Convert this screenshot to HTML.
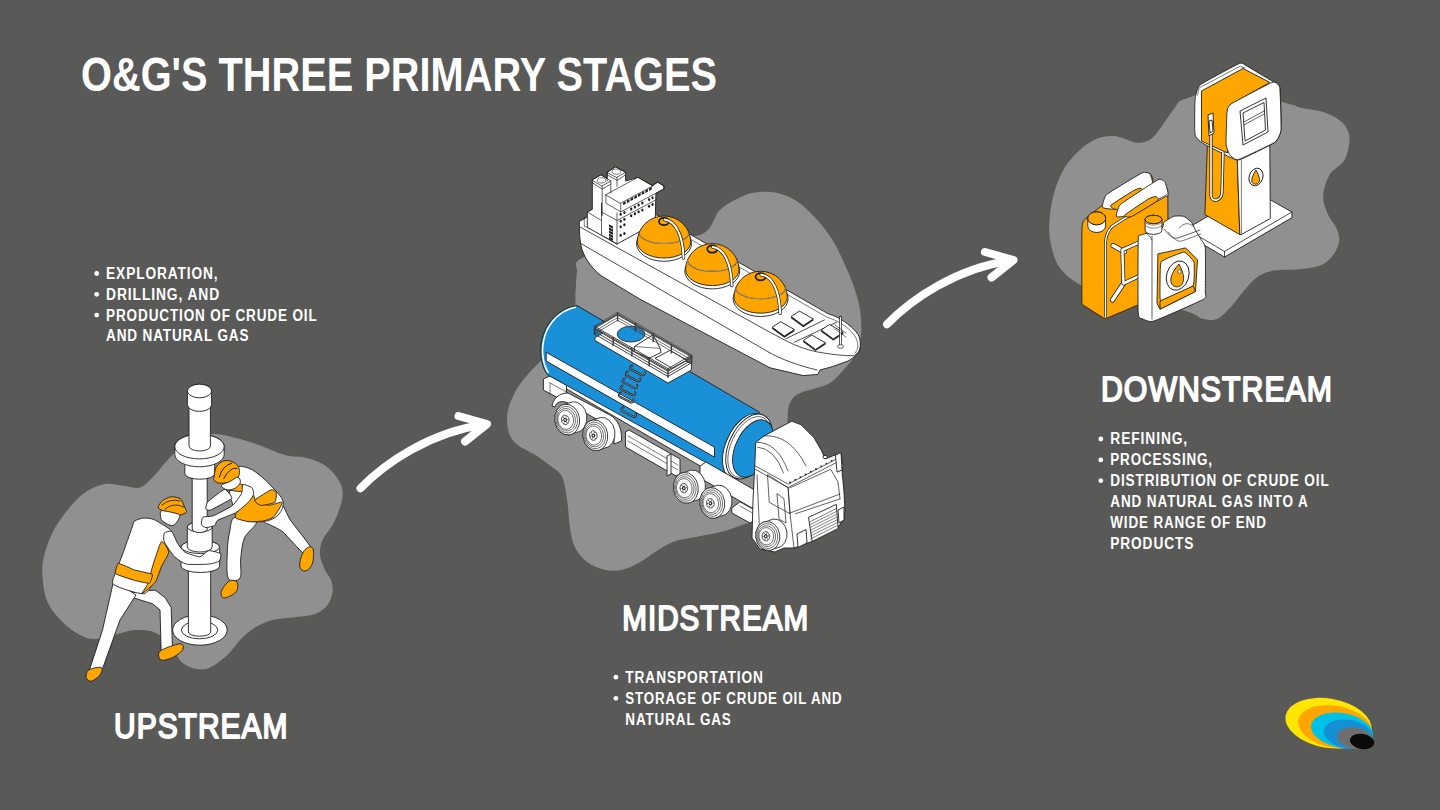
<!DOCTYPE html>
<html><head><meta charset="utf-8"><style>
html,body{margin:0;padding:0;background:#595957;width:1440px;height:810px;overflow:hidden}
svg{display:block;font-family:"Liberation Sans",sans-serif}
</style></head><body>
<svg width="1440" height="810" viewBox="0 0 1440 810">
<rect width="1440" height="810" fill="#595957"/>
<path fill="#909090" d="M67.5,510.0 C72.9,503.3 78.8,496.8 85.0,492.5 C91.2,488.2 98.3,485.1 105.0,484.0 C111.7,482.9 119.2,485.4 125.0,486.0 C130.8,486.6 135.4,488.9 140.0,487.5 C144.6,486.1 147.5,482.5 152.5,477.5 C157.5,472.5 163.8,463.9 170.0,457.5 C176.2,451.1 182.5,442.9 190.0,439.0 C197.5,435.1 205.0,433.5 215.0,434.0 C225.0,434.5 238.3,438.5 250.0,442.0 C261.7,445.5 275.8,452.4 285.0,455.0 C294.2,457.6 298.8,456.0 305.0,457.5 C311.2,459.0 317.5,461.1 322.5,464.0 C327.5,466.9 331.7,470.7 335.0,475.0 C338.3,479.3 341.7,484.6 342.5,490.0 C343.3,495.4 341.7,501.7 340.0,507.5 C338.3,513.3 335.4,519.6 332.5,525.0 C329.6,530.4 324.6,535.0 322.5,540.0 C320.4,545.0 319.6,550.0 320.0,555.0 C320.4,560.0 323.2,565.8 325.0,570.0 C326.8,574.2 329.8,576.3 331.0,580.0 C332.2,583.7 333.1,587.8 332.5,592.0 C331.9,596.2 330.4,601.3 327.5,605.0 C324.6,608.7 320.8,611.9 315.0,614.0 C309.2,616.1 299.6,616.5 292.5,617.5 C285.4,618.5 278.8,618.3 272.5,620.0 C266.2,621.7 260.4,624.2 255.0,627.5 C249.6,630.8 244.6,635.4 240.0,640.0 C235.4,644.6 232.5,650.4 227.5,655.0 C222.5,659.6 215.1,665.2 210.0,667.5 C204.9,669.8 201.7,669.8 197.0,669.0 C192.3,668.2 186.5,666.5 182.0,662.5 C177.5,658.5 174.5,650.0 170.0,645.0 C165.5,640.0 160.8,635.0 155.0,632.5 C149.2,630.0 141.2,629.8 135.0,630.0 C128.8,630.2 124.2,632.5 117.5,634.0 C110.8,635.5 101.2,638.8 95.0,639.0 C88.8,639.2 85.4,637.8 80.0,635.0 C74.6,632.2 67.9,627.5 62.5,622.0 C57.1,616.5 50.8,609.5 47.5,602.0 C44.2,594.5 43.1,584.4 42.5,577.0 C41.9,569.6 42.1,564.9 43.8,557.5 C45.4,550.1 48.5,540.4 52.5,532.5 C56.5,524.6 62.1,516.7 67.5,510.0 Z"/>
<path fill="#909090" d="M582.0,258.0 C592.5,252.3 620.3,241.8 640.0,238.0 C659.7,234.2 686.7,239.7 700.0,235.0 C713.3,230.3 713.3,216.2 720.0,210.0 C726.7,203.8 734.2,200.4 740.0,197.5 C745.8,194.6 749.2,193.3 755.0,192.5 C760.8,191.7 768.3,191.2 775.0,192.5 C781.7,193.8 788.3,195.8 795.0,200.0 C801.7,204.2 808.8,210.8 815.0,217.5 C821.2,224.2 827.5,232.1 832.5,240.0 C837.5,247.9 841.2,256.7 845.0,265.0 C848.8,273.3 852.5,282.5 855.0,290.0 C857.5,297.5 859.0,302.5 860.0,310.0 C861.0,317.5 861.8,327.5 861.0,335.0 C860.2,342.5 858.0,349.1 855.0,355.0 C852.0,360.9 847.0,365.9 843.0,370.4 C839.0,374.9 835.6,379.2 831.1,382.2 C826.6,385.1 821.2,386.4 816.3,388.1 C811.4,389.8 805.5,390.9 801.5,392.6 C797.5,394.3 794.8,395.8 792.6,398.5 C790.4,401.2 789.0,404.5 788.1,408.9 C787.2,413.3 788.4,414.8 787.0,425.0 C785.6,435.2 784.2,455.0 780.0,470.0 C775.8,485.0 768.3,505.8 762.0,515.0 C755.7,524.2 749.1,522.1 742.0,525.0 C734.9,527.9 727.5,530.2 719.6,532.3 C711.7,534.3 702.5,535.6 694.6,537.3 C686.7,538.9 678.9,539.7 672.2,542.2 C665.6,544.7 660.1,548.9 654.7,552.2 C649.3,555.5 645.2,559.3 639.8,562.2 C634.4,565.1 628.1,568.5 622.3,569.7 C616.5,571.0 610.6,571.0 604.8,569.7 C599.0,568.5 592.4,566.0 587.4,562.2 C582.4,558.5 577.8,553.0 574.9,547.2 C572.0,541.4 571.1,534.8 569.9,527.3 C568.6,519.8 568.6,510.6 567.4,502.3 C566.1,494.0 564.9,483.2 562.4,477.4 C559.9,471.5 556.9,471.0 552.3,467.2 C547.7,463.4 540.7,458.5 534.9,454.8 C529.1,451.1 521.8,448.6 517.4,444.8 C513.0,441.1 510.3,437.7 508.7,432.3 C507.1,426.9 506.5,419.0 507.5,412.4 C508.5,405.8 511.6,398.6 514.9,392.4 C518.2,386.2 521.5,382.1 527.4,375.0 C533.2,367.9 542.4,360.2 550.0,350.0 C557.6,339.8 568.8,323.7 573.0,314.0 C577.2,304.3 574.8,299.0 575.5,292.0 C576.2,285.0 575.9,277.7 577.0,272.0 C578.1,266.3 571.5,263.7 582.0,258.0 Z"/>
<path fill="#909090" d="M1147.2,141.1 C1150.9,139.4 1152.6,137.9 1157.2,132.4 C1161.8,126.9 1170.1,113.6 1174.7,108.0 C1179.3,102.4 1175.8,102.3 1185.0,99.0 C1194.2,95.7 1213.8,87.5 1230.0,88.0 C1246.2,88.5 1271.2,99.1 1282.0,102.0 C1292.8,104.9 1292.0,104.6 1295.0,105.5 C1298.0,106.4 1294.8,106.2 1299.7,107.4 C1304.6,108.6 1317.5,109.9 1324.6,112.4 C1331.6,114.9 1337.8,118.1 1342.0,122.3 C1346.2,126.5 1349.1,131.1 1349.5,137.3 C1349.9,143.5 1347.9,153.5 1344.6,159.7 C1341.3,165.9 1333.2,168.6 1329.6,174.7 C1326.0,180.8 1323.5,189.4 1323.2,196.0 C1322.9,202.6 1325.9,209.2 1328.0,214.4 C1330.1,219.6 1334.1,223.0 1336.0,227.3 C1337.9,231.6 1339.5,235.8 1339.3,240.1 C1339.0,244.4 1337.2,249.0 1334.5,253.0 C1331.8,257.0 1328.5,261.5 1323.2,264.2 C1317.9,266.9 1310.7,267.9 1302.4,269.0 C1294.1,270.1 1281.0,269.3 1273.5,270.6 C1266.0,271.9 1262.2,273.8 1257.4,277.0 C1252.6,280.2 1248.9,285.1 1244.6,289.9 C1240.3,294.7 1236.2,301.1 1231.7,305.9 C1227.2,310.7 1222.1,316.6 1217.3,318.8 C1212.5,321.0 1207.3,319.9 1202.8,318.8 C1198.2,317.7 1198.8,315.5 1190.0,312.4 C1181.2,309.3 1165.8,303.7 1150.0,300.0 C1134.2,296.3 1107.7,293.2 1095.0,290.0 C1082.3,286.8 1080.2,285.2 1074.0,281.0 C1067.8,276.8 1062.0,271.9 1058.0,265.0 C1054.0,258.1 1051.3,248.0 1050.0,239.6 C1048.7,231.2 1049.2,223.0 1050.0,214.7 C1050.8,206.4 1052.5,197.7 1055.0,189.8 C1057.5,181.9 1060.8,174.0 1064.9,167.3 C1069.1,160.7 1074.5,154.7 1079.9,149.9 C1085.3,145.1 1091.6,140.9 1097.4,138.6 C1103.2,136.3 1108.6,135.5 1114.8,136.1 C1121.0,136.7 1129.4,141.6 1134.8,142.4 C1140.2,143.2 1143.5,142.8 1147.2,141.1 Z"/>
<ellipse cx="199.9" cy="630.0" rx="27.3" ry="15.2" fill="#fff" stroke="#1e1e1e" stroke-width="0.9" stroke-linejoin="round"/>
<ellipse cx="199.6" cy="630.0" rx="18.2" ry="8.8" fill="#fff" stroke="#1e1e1e" stroke-width="0.9" stroke-linejoin="round"/>
<path d="M188.4,567.0 L188.4,632.0 A11.1,4.2 0 0 0 210.7,632.0 L210.7,567.0 A11.1,4.2 0 0 0 188.4,567.0 Z" fill="#fff" stroke="#1e1e1e" stroke-width="0.9" stroke-linejoin="round" />
<ellipse cx="199.6" cy="567.0" rx="11.1" ry="4.2" fill="#fff" stroke="#1e1e1e" stroke-width="0.9" stroke-linejoin="round"/>
<path d="M181.0,547.0 L181.0,566.0 A19.3,6.5 0 0 0 219.7,566.0 L219.7,547.0 A19.3,6.5 0 0 0 181.0,547.0 Z" fill="#fff" stroke="#1e1e1e" stroke-width="0.9" stroke-linejoin="round" />
<ellipse cx="200.3" cy="547.0" rx="19.3" ry="6.5" fill="#fff" stroke="#1e1e1e" stroke-width="0.9" stroke-linejoin="round"/>
<path d="M187.3,527.0 L187.3,547.0 A12.4,5.0 0 0 0 212.2,547.0 L212.2,527.0 A12.4,5.0 0 0 0 187.3,527.0 Z" fill="#fff" stroke="#1e1e1e" stroke-width="0.9" stroke-linejoin="round" />
<ellipse cx="199.8" cy="527.0" rx="12.4" ry="5.0" fill="#fff" stroke="#1e1e1e" stroke-width="0.9" stroke-linejoin="round"/>
<path d="M192.2,470.0 L192.2,529.0 A7.5,3.5 0 0 0 207.2,529.0 L207.2,470.0 A7.5,3.5 0 0 0 192.2,470.0 Z" fill="#fff" stroke="#1e1e1e" stroke-width="0.9" stroke-linejoin="round" />
<ellipse cx="199.7" cy="470.0" rx="7.5" ry="3.5" fill="#fff" stroke="#1e1e1e" stroke-width="0.9" stroke-linejoin="round"/>
<path d="M184.8,460.0 L184.8,473.7 A14.9,5.5 0 0 0 214.7,473.7 L214.7,460.0 A14.9,5.5 0 0 0 184.8,460.0 Z" fill="#fff" stroke="#1e1e1e" stroke-width="0.9" stroke-linejoin="round" />
<ellipse cx="199.8" cy="460.0" rx="14.9" ry="5.5" fill="#fff" stroke="#1e1e1e" stroke-width="0.9" stroke-linejoin="round"/>
<path d="M174.8,446.6 L174.8,454.5 A24.7,12.3 0 0 0 224.2,454.5 L224.2,446.6 A24.7,12.3 0 0 0 174.8,446.6 Z" fill="#fff" stroke="#1e1e1e" stroke-width="0.9" stroke-linejoin="round" />
<ellipse cx="199.5" cy="446.6" rx="24.7" ry="12.3" fill="#fff" stroke="#1e1e1e" stroke-width="0.9" stroke-linejoin="round"/>
<path d="M189.0,404.0 L189.0,446.0 A10.7,5.0 0 0 0 210.4,446.0 L210.4,404.0 A10.7,5.0 0 0 0 189.0,404.0 Z" fill="#fff" stroke="#1e1e1e" stroke-width="0.9" stroke-linejoin="round" />
<ellipse cx="199.7" cy="404.0" rx="10.7" ry="5.0" fill="#fff" stroke="#1e1e1e" stroke-width="0.9" stroke-linejoin="round"/>
<path d="M187.4,391.0 L187.4,404.6 A12.1,6.8 0 0 0 211.6,404.6 L211.6,391.0 A12.1,6.8 0 0 0 187.4,391.0 Z" fill="#fff" stroke="#1e1e1e" stroke-width="0.9" stroke-linejoin="round" />
<ellipse cx="199.5" cy="391.0" rx="12.1" ry="6.8" fill="#fff" stroke="#1e1e1e" stroke-width="0.9" stroke-linejoin="round"/>
<path d="M263.7,520.9 C264.7,518.7 277.3,502.5 280.0,502.4 C282.7,502.3 287.3,515.7 290.4,520.2 C293.4,524.6 309.0,543.5 310.4,546.9 C311.7,550.2 306.4,555.0 303.7,553.5 C301.0,552.0 286.4,534.9 283.0,532.0 C279.6,529.1 271.6,525.7 269.6,524.6 C267.7,523.5 262.7,523.1 263.7,520.9 Z" fill="#fff" stroke="#1e1e1e" stroke-width="0.9" stroke-linejoin="round" />
<path d="M234.8,517.2 C239.3,515.5 254.7,518.2 256.3,521.7 C257.9,525.1 247.0,531.8 244.4,538.0 C241.9,544.1 241.5,552.0 240.7,558.7 C240.0,565.4 242.1,574.8 240.0,578.0 C237.9,581.2 230.2,582.7 228.1,578.0 C226.0,573.3 227.2,557.5 227.4,549.8 C227.7,542.2 228.4,537.5 229.6,532.0 C230.9,526.6 230.4,519.0 234.8,517.2 Z" fill="#fff" stroke="#1e1e1e" stroke-width="0.9" stroke-linejoin="round" />
<path d="M235.6,468.3 C238.8,464.6 244.4,466.9 248.9,468.3 C253.3,469.8 258.0,473.8 262.2,477.2 C266.4,480.7 270.6,485.1 274.1,489.1 C277.5,493.0 282.0,497.0 283.0,500.9 C284.0,504.9 282.2,509.6 280.0,512.8 C277.8,516.0 274.1,518.7 269.6,520.2 C265.2,521.7 258.8,522.2 253.3,521.7 C247.9,521.2 240.5,520.2 237.0,517.2 C233.6,514.3 233.8,508.3 232.6,503.9 C231.4,499.4 229.1,496.5 229.6,490.6 C230.1,484.6 232.3,472.0 235.6,468.3 Z" fill="#fff" stroke="#1e1e1e" stroke-width="0.9" stroke-linejoin="round" />
<path d="M225.2,489.4 C224.0,488.4 237.8,483.9 240.0,483.9 C242.2,483.9 247.0,487.1 247.4,489.1 C247.9,491.1 245.5,501.6 244.4,503.9 C243.4,506.2 237.9,510.6 237.0,512.0 C236.1,513.4 234.4,517.0 235.6,518.0 C236.7,518.9 246.1,521.4 248.9,521.7 C251.7,522.0 261.2,521.4 263.7,520.9 C266.2,520.4 272.2,518.3 274.1,516.5 C275.9,514.6 282.7,503.5 282.2,502.4 C281.8,501.3 272.2,505.1 269.6,505.1 C267.0,505.1 258.1,503.6 256.3,502.4 C254.5,501.3 255.0,494.8 251.9,493.5 C248.7,492.2 226.4,490.3 225.2,489.4 Z" fill="#ffa500" stroke="#1e1e1e" stroke-width="0.9" stroke-linejoin="round" />
<path d="M254.8,500.2 C255.7,498.9 269.3,490.4 271.1,489.8 C272.9,489.2 276.0,491.7 276.3,492.8 C276.6,493.8 276.1,501.4 274.8,502.4 C273.5,503.5 262.4,505.6 260.7,505.4 C259.1,505.2 254.0,501.5 254.8,500.2 Z" fill="#ffa500" stroke="#1e1e1e" stroke-width="0.9" stroke-linejoin="round" />
<path d="M225.2,489.4 C223.6,489.1 218.1,493.7 216.3,495.0 C214.5,496.3 208.4,501.0 207.4,502.4 C206.4,503.8 205.6,508.3 205.9,509.1 C206.2,509.8 208.6,510.7 210.4,510.1 C212.1,509.5 221.6,504.4 223.7,503.1 C225.9,501.9 231.7,499.3 231.9,498.0 C232.0,496.6 226.7,489.7 225.2,489.4 Z" fill="#fff" stroke="#1e1e1e" stroke-width="0.9" stroke-linejoin="round" />
<path d="M243.0,484.6 C244.0,484.0 250.8,486.6 251.9,487.6 C252.9,488.6 253.9,492.9 253.6,494.3 C253.3,495.7 250.7,499.8 248.9,501.7 C247.1,503.5 238.7,510.9 235.6,512.8 C232.4,514.6 219.9,518.9 217.8,520.2 C215.7,521.4 216.0,524.6 214.8,525.4 C213.6,526.1 207.3,527.7 205.9,527.6 C204.6,527.5 201.8,525.7 201.5,524.6 C201.2,523.6 201.8,518.1 203.0,517.2 C204.1,516.3 210.4,516.9 213.3,515.7 C216.3,514.6 229.8,507.6 232.6,505.4 C235.4,503.1 240.4,495.6 241.5,493.5 C242.5,491.4 241.9,485.2 243.0,484.6 Z" fill="#fff" stroke="#1e1e1e" stroke-width="0.9" stroke-linejoin="round" />
<path d="M214.1,477.2 C214.4,475.0 214.7,469.6 216.3,466.9 C217.9,464.1 221.0,461.8 223.7,460.9 C226.4,460.1 230.1,460.7 232.6,461.7 C235.1,462.7 237.4,464.8 238.5,466.9 C239.6,469.0 239.8,472.2 239.3,474.3 C238.8,476.4 237.4,478.1 235.6,479.4 C233.7,480.8 230.9,481.8 228.1,482.4 C225.4,483.0 221.6,483.5 219.3,483.1 C216.9,482.8 214.9,481.2 214.1,480.2 C213.2,479.2 213.7,479.4 214.1,477.2 Z" fill="#ffa500" stroke="#1e1e1e" stroke-width="0.9" stroke-linejoin="round" />
<path d="M219.3,477.2 Q222.2,465.4 231.9,463.1 M223.7,478.7 Q229.6,466.9 237.0,468.3" fill="none" stroke="#1e1e1e" stroke-width="1.00" stroke-linecap="round" stroke-linejoin="round"/>
<path d="M222.2,484.6 C223.5,483.7 227.0,482.9 229.6,481.7 C232.2,480.4 236.0,477.1 237.8,477.2 C239.6,477.3 240.7,480.6 240.3,482.4 C239.9,484.2 237.6,486.6 235.6,487.9 C233.5,489.1 230.4,490.1 228.1,490.0 C225.9,489.9 223.2,488.2 222.2,487.3 C221.2,486.4 221.0,485.6 222.2,484.6 Z" fill="#fff" stroke="#1e1e1e" stroke-width="0.9" stroke-linejoin="round" />
<path d="M303.7,551.3 C305.3,548.8 308.0,547.1 309.6,546.9 C311.2,546.6 312.8,547.1 313.3,549.8 C313.8,552.5 313.7,559.7 312.6,563.1 C311.5,566.6 308.6,569.6 306.7,570.6 C304.7,571.5 301.9,570.6 300.7,569.1 C299.6,567.6 299.5,564.6 300.0,561.7 C300.5,558.7 302.1,553.8 303.7,551.3 Z" fill="#ffa500" stroke="#1e1e1e" stroke-width="0.9" stroke-linejoin="round" />
<path d="M229.3,581.0 C231.9,579.5 236.1,580.5 237.2,582.3 C238.3,584.1 238.2,589.4 236.0,592.0 C233.8,594.6 226.4,598.2 224.0,598.0 C221.6,597.8 220.5,593.8 221.4,591.0 C222.3,588.2 226.7,582.5 229.3,581.0 Z" fill="#ffa500" stroke="#1e1e1e" stroke-width="0.9" stroke-linejoin="round" />
<path d="M130.0,592.5 L155.0,590.0 L165.0,597.5 L171.2,607.5 L172.5,650.0 L161.2,652.5 L160.0,610.0 L152.5,603.8 L132.5,597.5 Z" fill="#fff" stroke="#1e1e1e" stroke-width="0.9" stroke-linejoin="round" />
<path d="M113.8,580.0 L136.0,595.0 L120.0,620.0 L102.5,668.8 L89.0,671.2 L102.5,630.0 Z" fill="#fff" stroke="#1e1e1e" stroke-width="0.9" stroke-linejoin="round" />
<path d="M134.6,521.1 C136.0,519.9 141.2,518.3 143.5,518.1 C145.8,517.9 151.0,518.4 153.9,519.6 C156.8,520.8 166.6,526.9 168.7,528.5 C170.8,530.1 172.2,531.4 171.7,533.0 C171.2,534.6 164.8,540.3 164.3,541.9 C163.8,543.5 168.2,542.0 167.2,546.3 C166.2,550.6 158.2,573.4 155.4,578.9 C152.6,584.4 148.3,593.0 143.5,593.7 C138.7,594.4 117.2,587.2 113.9,584.8 C110.6,582.4 114.4,576.6 115.4,573.0 C116.4,569.4 120.9,558.9 122.8,553.7 C124.7,548.5 130.3,532.3 131.7,528.5 C133.1,524.7 133.2,522.3 134.6,521.1 Z" fill="#fff" stroke="#1e1e1e" stroke-width="0.9" stroke-linejoin="round" />
<path d="M161.3,541.9 C162.9,540.4 168.7,549.7 168.7,552.2 C168.7,554.7 162.6,564.0 161.3,567.0 C160.0,570.0 157.3,579.2 155.4,581.9 C153.5,584.6 142.7,593.6 142.0,593.7 C141.3,593.8 147.0,586.0 148.0,583.3 C149.0,580.6 151.1,571.1 152.4,567.0 C153.7,562.9 159.7,543.4 161.3,541.9 Z" fill="#ffa500" stroke="#1e1e1e" stroke-width="0.9" stroke-linejoin="round" />
<path d="M118.3,563.3 C119.3,563.1 132.9,569.4 134.6,570.0 C136.3,570.6 151.7,573.7 152.4,574.4 C153.1,575.1 150.3,583.0 149.4,583.3 C148.5,583.6 136.3,580.9 134.6,580.4 C132.9,579.9 116.2,574.6 115.4,573.7 C114.6,572.8 117.3,563.5 118.3,563.3 Z" fill="#ffa500" stroke="#1e1e1e" stroke-width="0.9" stroke-linejoin="round" />
<path d="M164.3,533.0 C165.0,532.0 170.4,530.5 171.7,531.5 C173.0,532.5 176.3,541.2 177.6,543.3 C178.9,545.4 182.8,550.9 185.0,552.2 C187.2,553.5 197.4,556.9 199.8,556.7 C202.2,556.6 206.6,551.0 208.7,550.7 C210.8,550.4 219.6,552.7 220.6,553.7 C221.6,554.7 220.3,560.1 219.1,561.1 C217.9,562.1 212.0,563.8 208.7,564.1 C205.4,564.4 189.9,564.8 186.5,564.1 C183.1,563.4 176.8,558.9 174.6,556.7 C172.4,554.5 165.3,544.3 164.3,541.9 C163.3,539.5 163.6,534.0 164.3,533.0 Z" fill="#fff" stroke="#1e1e1e" stroke-width="0.9" stroke-linejoin="round" />
<path d="M158.3,506.3 C158.6,505.4 161.5,501.4 162.8,500.4 C164.1,499.4 169.9,496.8 171.7,496.7 C173.5,496.6 179.3,497.8 180.6,498.9 C181.9,500.0 184.4,506.5 185.0,507.8 C185.6,509.1 187.1,511.5 186.5,512.2 C185.9,512.9 181.0,515.2 179.1,515.2 C177.2,515.2 169.1,512.8 167.2,512.2 C165.3,511.6 160.7,509.9 159.8,509.3 C158.9,508.7 158.0,507.2 158.3,506.3 Z" fill="#ffa500" stroke="#1e1e1e" stroke-width="0.9" stroke-linejoin="round" />
<path d="M162,505 Q170,498 180,501 M165,509 Q174,502 184,507" fill="none" stroke="#1e1e1e" stroke-width="0.90" stroke-linecap="round" stroke-linejoin="round"/>
<path d="M161.3,510.7 C163.1,510.2 177.5,513.4 179.1,514.4 C180.7,515.4 178.2,520.0 177.6,521.1 C177.0,522.2 174.1,525.3 173.1,525.6 C172.1,525.9 168.4,524.7 167.2,524.1 C166.0,523.5 161.9,520.9 161.3,519.6 C160.7,518.3 159.5,511.2 161.3,510.7 Z" fill="#fff" stroke="#1e1e1e" stroke-width="0.9" stroke-linejoin="round" />
<path d="M160.0,651.2 C163.1,648.5 176.2,644.0 180.0,643.8 C183.8,643.5 183.8,647.7 182.5,650.0 C181.2,652.3 176.0,655.8 172.5,657.5 C169.0,659.2 163.3,661.0 161.2,660.0 C159.2,659.0 156.9,654.0 160.0,651.2 Z" fill="#ffa500" stroke="#1e1e1e" stroke-width="0.9" stroke-linejoin="round" />
<path d="M88.8,670.0 C91.2,668.3 99.4,666.7 101.2,667.5 C103.1,668.3 101.7,672.7 100.0,675.0 C98.3,677.3 93.5,680.8 91.2,681.2 C89.0,681.7 86.7,679.4 86.2,677.5 C85.8,675.6 86.2,671.7 88.8,670.0 Z" fill="#ffa500" stroke="#1e1e1e" stroke-width="0.9" stroke-linejoin="round" />
<path d="M579.3,221.6 L623.6,196 L827.8,313.6 C840,317 852,326 858,334.4 C861,340 861,348 858.9,352.2 C855,357 850,360 847.8,361.1 L832.2,366.7 L820,370 L817.8,374.4 L803.3,375.6 L770,367.8 L640,299.2 L600,275 C592,268 586,260 583,252 C580,245 579.3,235 579.3,221.6 Z" fill="#fff" stroke="#1e1e1e" stroke-width="0.9" stroke-linejoin="round" />
<path d="M580,227 L770,332.3 C785,340 800,350 825.6,353.3 C840,355.5 850,356 854.4,355.6 C858,353 860,350 860,347.8" fill="none" stroke="#1e1e1e" stroke-width="0.80" stroke-linecap="round" stroke-linejoin="round"/>
<path d="M581,243.6 L767.6,351.5 C780,359 800,366 817,370" fill="none" stroke="#1e1e1e" stroke-width="0.80" stroke-linecap="round" stroke-linejoin="round"/>
<path d="M690,239 L827.5,317.5 C840,321 852,330 856,338 C859,345 858,350 855,353" fill="none" stroke="#1e1e1e" stroke-width="0.60" stroke-linecap="round" stroke-linejoin="round"/>
<path d="M584.3,217.3 L584.3,226 M584.3,226 L590,229" fill="none" stroke="#1e1e1e" stroke-width="0.60" stroke-linecap="round" stroke-linejoin="round"/>
<path d="M824.4,320 L785.6,338.9 M836.7,322.2 L794.4,342.2" fill="none" stroke="#1e1e1e" stroke-width="0.80" stroke-linecap="round" stroke-linejoin="round"/>
<path d="M791.1,317.8 L799.4,312.3 L813.3,320.1 L803.3,326.7 Z" fill="#1e1e1e" stroke="#1e1e1e" stroke-width="0.9" stroke-linejoin="round" />
<path d="M791.1,316.6 L799.4,311.1 L813.3,318.9 L803.3,325.5 Z" fill="#fff" stroke="#1e1e1e" stroke-width="0.9" stroke-linejoin="round" />
<path d="M772.2,328.4 L780.5,322.9 L794.4,330.7 L784.4,337.3 Z" fill="#1e1e1e" stroke="#1e1e1e" stroke-width="0.9" stroke-linejoin="round" />
<path d="M772.2,327.2 L780.5,321.7 L794.4,329.5 L784.4,336.1 Z" fill="#fff" stroke="#1e1e1e" stroke-width="0.9" stroke-linejoin="round" />
<path d="M821.1,331.2 L829.4,325.7 L843.3,333.5 L833.3,340.1 Z" fill="#1e1e1e" stroke="#1e1e1e" stroke-width="0.9" stroke-linejoin="round" />
<path d="M821.1,330.0 L829.4,324.5 L843.3,332.3 L833.3,338.9 Z" fill="#fff" stroke="#1e1e1e" stroke-width="0.9" stroke-linejoin="round" />
<path d="M803.3,341.7 L811.6,336.2 L825.5,344.0 L815.5,350.6 Z" fill="#1e1e1e" stroke="#1e1e1e" stroke-width="0.9" stroke-linejoin="round" />
<path d="M803.3,340.5 L811.6,335.0 L825.5,342.8 L815.5,349.4 Z" fill="#fff" stroke="#1e1e1e" stroke-width="0.9" stroke-linejoin="round" />
<path d="M840.5,317 L840.5,345.5" fill="none" stroke="#1e1e1e" stroke-width="2.60" stroke-linecap="round" stroke-linejoin="round"/>
<path d="M840.5,317 L840.5,345.5" stroke="#fff" stroke-width="1.2"/>
<ellipse cx="840.5" cy="346.5" rx="3" ry="1.8" fill="#fff" stroke="#1e1e1e" stroke-width="0.7"/>
<path d="M835,325 L846,333 M835,329 L846,337" fill="none" stroke="#1e1e1e" stroke-width="0.60" stroke-linecap="round" stroke-linejoin="round"/>
<path d="M587.3,211.9 L592.3,209.4 L592.3,179.8 L600.9,174.8 L607.1,178.5 L607.1,172.3 L615.7,166.8 L625.6,172.3 L625.6,181.0 L638.0,177.3 L652.8,185.9 L652.8,184.7 L657.7,182.2 L663.9,185.9 L663.9,189.0 L655.9,193.3 L655.2,223.0 L617.0,244.0 L601.5,235.3 L587.3,227.3 Z" fill="#fff" stroke="#1e1e1e" stroke-width="0.9" stroke-linejoin="round" />
<path d="M592.3,179.8 L600.9,174.8 L610.8,181.0 L602.2,185.9 Z" fill="none" stroke="#1e1e1e" stroke-width="0.70" stroke-linecap="round" stroke-linejoin="round"/>
<path d="M602.2,185.9 L602.2,215.6 M610.8,181.0 L610.8,193.3 M592.3,182.8 L602.2,189.0 L610.8,184.1" fill="none" stroke="#1e1e1e" stroke-width="0.70" stroke-linecap="round" stroke-linejoin="round"/>
<ellipse cx="601.5" cy="180.4" rx="4.2" ry="2.6" fill="#fff" stroke="#1e1e1e" stroke-width="0.6"/>
<path d="M607.1,172.3 L615.7,166.8 L625.6,172.3 L617.0,177.3 Z" fill="none" stroke="#1e1e1e" stroke-width="0.70" stroke-linecap="round" stroke-linejoin="round"/>
<path d="M617.0,177.3 L617.0,186.5 M607.1,172.3 L607.1,181.0 M607.1,174.8 L617.0,180.4 L625.6,174.8" fill="none" stroke="#1e1e1e" stroke-width="0.70" stroke-linecap="round" stroke-linejoin="round"/>
<ellipse cx="616.4" cy="171.7" rx="4.2" ry="2.6" fill="#fff" stroke="#1e1e1e" stroke-width="0.6"/>
<path d="M605.9,194.6 L638.0,177.3 L652.8,185.9 L620.7,203.2 Z M605.9,194.6 L605.9,203.2 L620.7,211.9 L620.7,203.2" fill="none" stroke="#1e1e1e" stroke-width="0.70" stroke-linecap="round" stroke-linejoin="round"/>
<path d="M620.7,211.9 L663.9,189.0 L663.9,185.9 M652.8,185.9 L657.7,182.2 L663.9,185.9" fill="none" stroke="#1e1e1e" stroke-width="0.70" stroke-linecap="round" stroke-linejoin="round"/>
<path d="M623.1,202.6 l2.6,-1.4 l0,2.6 l-2.6,1.4 Z" fill="#1e1e1e"/>
<path d="M626.9,200.6 l2.6,-1.4 l0,2.6 l-2.6,1.4 Z" fill="#1e1e1e"/>
<path d="M630.6,198.5 l2.6,-1.4 l0,2.6 l-2.6,1.4 Z" fill="#1e1e1e"/>
<path d="M634.3,196.5 l2.6,-1.4 l0,2.6 l-2.6,1.4 Z" fill="#1e1e1e"/>
<path d="M638.0,194.4 l2.6,-1.4 l0,2.6 l-2.6,1.4 Z" fill="#1e1e1e"/>
<path d="M641.7,192.4 l2.6,-1.4 l0,2.6 l-2.6,1.4 Z" fill="#1e1e1e"/>
<path d="M645.4,190.4 l2.6,-1.4 l0,2.6 l-2.6,1.4 Z" fill="#1e1e1e"/>
<path d="M649.1,188.3 l2.6,-1.4 l0,2.6 l-2.6,1.4 Z" fill="#1e1e1e"/>
<path d="M601.5,203.2 L601.5,235.3 L617.0,244.0 M617.0,213.1 L617.0,244.0 L617.0,244.0" fill="none" stroke="#1e1e1e" stroke-width="0.70" stroke-linecap="round" stroke-linejoin="round"/>
<path d="M587.3,211.9 L601.5,220.5 M601.5,211.9 L617.0,220.5 L656.5,199.5" fill="none" stroke="#1e1e1e" stroke-width="0.70" stroke-linecap="round" stroke-linejoin="round"/>
<path d="M601.5,214.3 L601.5,203.2" fill="none" stroke="#1e1e1e" stroke-width="0.70" stroke-linecap="round" stroke-linejoin="round"/>
<ellipse cx="620.7" cy="214.3" rx="1.15" ry="1.5" fill="#1e1e1e"/>
<ellipse cx="624.4" cy="212.4" rx="1.15" ry="1.5" fill="#1e1e1e"/>
<ellipse cx="631.2" cy="208.9" rx="1.15" ry="1.5" fill="#1e1e1e"/>
<ellipse cx="634.9" cy="206.9" rx="1.15" ry="1.5" fill="#1e1e1e"/>
<ellipse cx="638.6" cy="205.0" rx="1.15" ry="1.5" fill="#1e1e1e"/>
<ellipse cx="642.3" cy="203.1" rx="1.15" ry="1.5" fill="#1e1e1e"/>
<ellipse cx="649.1" cy="199.6" rx="1.15" ry="1.5" fill="#1e1e1e"/>
<ellipse cx="652.5" cy="197.8" rx="1.15" ry="1.5" fill="#1e1e1e"/>
<ellipse cx="620.7" cy="221.1" rx="1.15" ry="1.5" fill="#1e1e1e"/>
<ellipse cx="624.4" cy="219.2" rx="1.15" ry="1.5" fill="#1e1e1e"/>
<ellipse cx="631.2" cy="215.7" rx="1.15" ry="1.5" fill="#1e1e1e"/>
<ellipse cx="634.9" cy="213.7" rx="1.15" ry="1.5" fill="#1e1e1e"/>
<ellipse cx="638.6" cy="211.8" rx="1.15" ry="1.5" fill="#1e1e1e"/>
<ellipse cx="642.3" cy="209.9" rx="1.15" ry="1.5" fill="#1e1e1e"/>
<ellipse cx="649.1" cy="206.3" rx="1.15" ry="1.5" fill="#1e1e1e"/>
<ellipse cx="652.5" cy="204.5" rx="1.15" ry="1.5" fill="#1e1e1e"/>
<ellipse cx="620.7" cy="226.7" rx="1.15" ry="1.5" fill="#1e1e1e"/>
<ellipse cx="624.4" cy="224.7" rx="1.15" ry="1.5" fill="#1e1e1e"/>
<ellipse cx="620.7" cy="235.3" rx="1.15" ry="1.5" fill="#1e1e1e"/>
<ellipse cx="624.4" cy="233.4" rx="1.15" ry="1.5" fill="#1e1e1e"/>
<path d="M609.0,224.2 l4,2.2 l0,2.4 l-4,-2.2 Z" fill="#1e1e1e"/>
<path d="M609.0,227.3 l4,2.2 l0,2.4 l-4,-2.2 Z" fill="#1e1e1e"/>
<path d="M609.0,230.4 l4,2.2 l0,2.4 l-4,-2.2 Z" fill="#1e1e1e"/>
<path d="M609.0,233.5 l4,2.2 l0,2.4 l-4,-2.2 Z" fill="#1e1e1e"/>
<path d="M609.0,236.5 l4,2.2 l0,2.4 l-4,-2.2 Z" fill="#1e1e1e"/>
<ellipse cx="664.0" cy="243.5" rx="27.5" ry="17.8" fill="#fff" stroke="#1e1e1e" stroke-width="0.9" stroke-linejoin="round"/>
<path d="M637.3,242.0 A26.7,26 0 0 1 690.7,242.0 A26.7,16 0 0 1 637.3,242.0 Z" fill="#ffa500" stroke="#1e1e1e" stroke-width="0.9" stroke-linejoin="round"/>
<path d="M639.1,232.5 A24.9,11 0 0 0 688.9,232.5" fill="none" stroke="#1e1e1e" stroke-width="1.10" stroke-linecap="round" stroke-linejoin="round"/>
<path d="M639.1,232.5 A24.9,11 0 0 0 688.9,232.5" fill="none" stroke="#fff" stroke-width="0.5"/>
<ellipse cx="664.0" cy="221.5" rx="5" ry="3.6" fill="none" stroke="#1e1e1e" stroke-width="1.8"/>
<path d="M664.5,219.5 C676.0,221.0 683.0,236.0 683.5,258.0" fill="none" stroke="#1e1e1e" stroke-width="3.4" stroke-linecap="round"/>
<path d="M664.5,219.5 C676.0,221.0 683.0,236.0 683.5,258.0" fill="none" stroke="#fff" stroke-width="2" stroke-linecap="round"/>
<ellipse cx="712.3" cy="271.1" rx="27.5" ry="17.8" fill="#fff" stroke="#1e1e1e" stroke-width="0.9" stroke-linejoin="round"/>
<path d="M685.6,269.6 A26.7,26 0 0 1 739.0,269.6 A26.7,16 0 0 1 685.6,269.6 Z" fill="#ffa500" stroke="#1e1e1e" stroke-width="0.9" stroke-linejoin="round"/>
<path d="M687.4,260.1 A24.9,11 0 0 0 737.2,260.1" fill="none" stroke="#1e1e1e" stroke-width="1.10" stroke-linecap="round" stroke-linejoin="round"/>
<path d="M687.4,260.1 A24.9,11 0 0 0 737.2,260.1" fill="none" stroke="#fff" stroke-width="0.5"/>
<ellipse cx="712.3" cy="249.1" rx="5" ry="3.6" fill="none" stroke="#1e1e1e" stroke-width="1.8"/>
<path d="M712.8,247.1 C724.3,248.6 731.3,263.6 731.8,285.6" fill="none" stroke="#1e1e1e" stroke-width="3.4" stroke-linecap="round"/>
<path d="M712.8,247.1 C724.3,248.6 731.3,263.6 731.8,285.6" fill="none" stroke="#fff" stroke-width="2" stroke-linecap="round"/>
<ellipse cx="760.6" cy="298.7" rx="27.5" ry="17.8" fill="#fff" stroke="#1e1e1e" stroke-width="0.9" stroke-linejoin="round"/>
<path d="M733.9,297.2 A26.7,26 0 0 1 787.3,297.2 A26.7,16 0 0 1 733.9,297.2 Z" fill="#ffa500" stroke="#1e1e1e" stroke-width="0.9" stroke-linejoin="round"/>
<path d="M735.7,287.7 A24.9,11 0 0 0 785.5,287.7" fill="none" stroke="#1e1e1e" stroke-width="1.10" stroke-linecap="round" stroke-linejoin="round"/>
<path d="M735.7,287.7 A24.9,11 0 0 0 785.5,287.7" fill="none" stroke="#fff" stroke-width="0.5"/>
<ellipse cx="760.6" cy="276.7" rx="5" ry="3.6" fill="none" stroke="#1e1e1e" stroke-width="1.8"/>
<path d="M761.1,274.7 C772.6,276.2 779.6,291.2 780.1,313.2" fill="none" stroke="#1e1e1e" stroke-width="3.4" stroke-linecap="round"/>
<path d="M761.1,274.7 C772.6,276.2 779.6,291.2 780.1,313.2" fill="none" stroke="#fff" stroke-width="2" stroke-linecap="round"/>
<path d="M560.0,377.0 L735.0,478.0 L735.0,486.0 L558.0,384.0 Z" fill="#fff" stroke="#1e1e1e" stroke-width="0.9" stroke-linejoin="round" />
<path d="M543.4,379.0 L550.0,375.9 L566.5,385.0 L566.5,396.0 L560.0,399.0 L543.4,390.0 Z" fill="#fff" stroke="#1e1e1e" stroke-width="0.9" stroke-linejoin="round" />
<path d="M550,383 L566.5,392 M550,383 L550,394" fill="none" stroke="#1e1e1e" stroke-width="0.60" stroke-linecap="round" stroke-linejoin="round"/>
<path d="M625.5,432.0 L629.0,430.0 L680.0,459.0 L680.0,474.0 L676.0,476.0 L625.5,447.0 Z" fill="#fff" stroke="#1e1e1e" stroke-width="0.9" stroke-linejoin="round" />
<path d="M628,436 L678,465 M628,441 L678,470" fill="none" stroke="#1e1e1e" stroke-width="0.60" stroke-linecap="round" stroke-linejoin="round"/>
<path d="M667.0,456.0 L671.0,454.0 L671.0,474.0 L667.0,476.0 Z" fill="#fff" stroke="#1e1e1e" stroke-width="0.9" stroke-linejoin="round" />
<path d="M552,406 C553,399 559,393 568,393 L610,415 C618,420 621.5,428 621.5,438 L621.5,441 L614,444 L614,438 C614,432 611,427 605,424 L568,403 C562,400 556,402 555,407 Z" fill="#fff" stroke="#1e1e1e" stroke-width="0.9" stroke-linejoin="round" />
<g transform="translate(567.2,419.6) rotate(-8)">
<path d="M0,-15.4 L7.5,-16.9 A12.4,15.4 0 0 1 7.5,13.9 L0,15.4 A12.4,15.4 0 0 1 0,-15.4 Z" fill="#fff" stroke="#1e1e1e" stroke-width="0.8"/>
<ellipse cx="0.0" cy="0" rx="12.4" ry="15.4" fill="#fff" stroke="#1e1e1e" stroke-width="0.8"/>
<ellipse cx="-0.5" cy="0" rx="10.8" ry="13.4" fill="#fff" stroke="#1e1e1e" stroke-width="0.6"/>
<ellipse cx="-1.0" cy="0" rx="9.2" ry="11.4" fill="#fff" stroke="#1e1e1e" stroke-width="0.6"/>
<ellipse cx="-1.5" cy="0" rx="7.8" ry="9.6" fill="#fff" stroke="#1e1e1e" stroke-width="0.6"/>
<ellipse cx="-2" cy="0" rx="3.8" ry="4.8" fill="#fff" stroke="#1e1e1e" stroke-width="0.7"/>
<ellipse cx="-2" cy="0" rx="1.3" ry="1.6" fill="#fff" stroke="#1e1e1e" stroke-width="1.1"/>
<circle cx="0.8" cy="0.0" r="0.55" fill="#1e1e1e"/>
<circle cx="-0.6" cy="3.0" r="0.55" fill="#1e1e1e"/>
<circle cx="-3.4" cy="3.0" r="0.55" fill="#1e1e1e"/>
<circle cx="-4.8" cy="0.0" r="0.55" fill="#1e1e1e"/>
<circle cx="-3.4" cy="-3.0" r="0.55" fill="#1e1e1e"/>
<circle cx="-0.6" cy="-3.0" r="0.55" fill="#1e1e1e"/>
</g>
<g transform="translate(595.3,435.3) rotate(-8)">
<path d="M0,-15.4 L7.5,-16.9 A12.4,15.4 0 0 1 7.5,13.9 L0,15.4 A12.4,15.4 0 0 1 0,-15.4 Z" fill="#fff" stroke="#1e1e1e" stroke-width="0.8"/>
<ellipse cx="0.0" cy="0" rx="12.4" ry="15.4" fill="#fff" stroke="#1e1e1e" stroke-width="0.8"/>
<ellipse cx="-0.5" cy="0" rx="10.8" ry="13.4" fill="#fff" stroke="#1e1e1e" stroke-width="0.6"/>
<ellipse cx="-1.0" cy="0" rx="9.2" ry="11.4" fill="#fff" stroke="#1e1e1e" stroke-width="0.6"/>
<ellipse cx="-1.5" cy="0" rx="7.8" ry="9.6" fill="#fff" stroke="#1e1e1e" stroke-width="0.6"/>
<ellipse cx="-2" cy="0" rx="3.8" ry="4.8" fill="#fff" stroke="#1e1e1e" stroke-width="0.7"/>
<ellipse cx="-2" cy="0" rx="1.3" ry="1.6" fill="#fff" stroke="#1e1e1e" stroke-width="1.1"/>
<circle cx="0.8" cy="0.0" r="0.55" fill="#1e1e1e"/>
<circle cx="-0.6" cy="3.0" r="0.55" fill="#1e1e1e"/>
<circle cx="-3.4" cy="3.0" r="0.55" fill="#1e1e1e"/>
<circle cx="-4.8" cy="0.0" r="0.55" fill="#1e1e1e"/>
<circle cx="-3.4" cy="-3.0" r="0.55" fill="#1e1e1e"/>
<circle cx="-0.6" cy="-3.0" r="0.55" fill="#1e1e1e"/>
</g>
<path d="M577,305.6 L759.4,412.2 L734,478 L547.5,374.8 C540,366 538,345 545,330 C552,316 563,308 577,305.6 Z" fill="#1a90d8" stroke="#1e1e1e" stroke-width="0.9" stroke-linejoin="round"/>
<path d="M576,307.3 C564,309.5 554,317 547,330 C541,344 540.5,360 548.5,373" fill="none" stroke="#fff" stroke-width="1.6"/>
<path d="M546.2,352.3 L714.5,447.1 L714.5,457.1 L546.2,361.1 Z" fill="#fff" stroke="#1e1e1e" stroke-width="0.9" stroke-linejoin="round" />
<g transform="rotate(25 745 446)"><ellipse cx="745" cy="446" rx="19" ry="34.5" fill="#fff" stroke="#1e1e1e" stroke-width="0.9" stroke-linejoin="round"/></g>
<g transform="rotate(25 749 446.5)"><ellipse cx="749" cy="446.5" rx="20" ry="34.5" fill="#fff" stroke="#1e1e1e" stroke-width="0.9" stroke-linejoin="round"/><ellipse cx="749.5" cy="446.8" rx="18.3" ry="32.5" fill="none" stroke="#1e1e1e" stroke-width="0.6"/></g>
<g transform="rotate(25 753 448.5)"><ellipse cx="753" cy="448.5" rx="17.5" ry="30.5" fill="#1a90d8" stroke="#1e1e1e" stroke-width="0.9" stroke-linejoin="round"/></g>
<path d="M632.2,365.4 Q629.2,367.6 630.7,369.2 L642.2,375.2 Q645.0,375.4 644.7,372.2" fill="none" stroke="#1e1e1e" stroke-width="2.1" stroke-linecap="round" stroke-linejoin="round"/>
<path d="M632.2,365.4 Q629.2,367.6 630.7,369.2 L642.2,375.2 Q645.0,375.4 644.7,372.2" fill="none" stroke="#9a9a9a" stroke-width="0.8" stroke-linecap="round" stroke-linejoin="round"/>
<path d="M627.8,371.4 Q624.8,373.6 626.3,375.2 L637.8,381.2 Q640.6,381.4 640.3,378.2" fill="none" stroke="#1e1e1e" stroke-width="2.1" stroke-linecap="round" stroke-linejoin="round"/>
<path d="M627.8,371.4 Q624.8,373.6 626.3,375.2 L637.8,381.2 Q640.6,381.4 640.3,378.2" fill="none" stroke="#9a9a9a" stroke-width="0.8" stroke-linecap="round" stroke-linejoin="round"/>
<path d="M624.6,378.3 Q621.6,380.5 623.1,382.1 L634.6,388.1 Q637.4,388.3 637.1,385.1" fill="none" stroke="#1e1e1e" stroke-width="2.1" stroke-linecap="round" stroke-linejoin="round"/>
<path d="M624.6,378.3 Q621.6,380.5 623.1,382.1 L634.6,388.1 Q637.4,388.3 637.1,385.1" fill="none" stroke="#9a9a9a" stroke-width="0.8" stroke-linecap="round" stroke-linejoin="round"/>
<path d="M622.6,385.5 Q619.6,387.7 621.1,389.3 L632.6,395.3 Q635.4,395.5 635.1,392.3" fill="none" stroke="#1e1e1e" stroke-width="2.1" stroke-linecap="round" stroke-linejoin="round"/>
<path d="M622.6,385.5 Q619.6,387.7 621.1,389.3 L632.6,395.3 Q635.4,395.5 635.1,392.3" fill="none" stroke="#9a9a9a" stroke-width="0.8" stroke-linecap="round" stroke-linejoin="round"/>
<path d="M621.0,392.7 Q618.0,394.9 619.5,396.5 L631.0,402.5 Q633.8,402.7 633.5,399.5" fill="none" stroke="#1e1e1e" stroke-width="2.1" stroke-linecap="round" stroke-linejoin="round"/>
<path d="M621.0,392.7 Q618.0,394.9 619.5,396.5 L631.0,402.5 Q633.8,402.7 633.5,399.5" fill="none" stroke="#9a9a9a" stroke-width="0.8" stroke-linecap="round" stroke-linejoin="round"/>
<path d="M623.4,407.1 Q620.4,409.3 621.9,410.9 L633.4,416.9 Q636.2,417.1 635.9,413.9" fill="none" stroke="#1e1e1e" stroke-width="2.1" stroke-linecap="round" stroke-linejoin="round"/>
<path d="M623.4,407.1 Q620.4,409.3 621.9,410.9 L633.4,416.9 Q636.2,417.1 635.9,413.9" fill="none" stroke="#9a9a9a" stroke-width="0.8" stroke-linecap="round" stroke-linejoin="round"/>
<path d="M594.9,337.6 L617.6,324.2 L691.7,364.2 L691.2,370.2 L668.0,383.0 L594.9,340.5 Z" fill="#fff" stroke="#1e1e1e" stroke-width="0.9" stroke-linejoin="round" />
<path d="M594.4,327.7 L617.6,314.4 L691.7,356.3 L668.0,370.2 Z" fill="#fff" stroke="#1e1e1e" stroke-width="0.9" stroke-linejoin="round" />
<ellipse cx="631" cy="334.1" rx="13.8" ry="7.9" fill="#1a90d8" stroke="#1e1e1e" stroke-width="0.8"/>
<path d="M634.4,346.5 L653.2,334.6 L660.1,348.4 L661.1,352.4 L649.2,358.3 L634.4,351.4 Z" fill="#fff" stroke="#1e1e1e" stroke-width="0.9" stroke-linejoin="round" />
<path d="M634.4,346.5 L660.1,348.4 M649.2,358.3 L649.2,364.2" fill="none" stroke="#1e1e1e" stroke-width="0.60" stroke-linecap="round" stroke-linejoin="round"/>
<path d="M655.1,358.3 L669.9,350.4 L686.7,360.3 L671.9,368.2 Z" fill="#fff" stroke="#1e1e1e" stroke-width="0.9" stroke-linejoin="round" />
<path d="M594.4,326.2 L668.0,368.7 L691.7,354.9" fill="none" stroke="#3a3a3a" stroke-width="0.95"/>
<path d="M594.4,326.2 L617.6,312.4 L691.7,354.9" fill="none" stroke="#3a3a3a" stroke-width="0.7"/>
<path d="M594.4,328.8 L668.0,371.3 L691.7,357.5" fill="none" stroke="#3a3a3a" stroke-width="0.95"/>
<path d="M594.4,328.8 L617.6,315.0 L691.7,357.5" fill="none" stroke="#3a3a3a" stroke-width="0.7"/>
<path d="M594.4,331.4 L668.0,373.9 L691.7,360.1" fill="none" stroke="#3a3a3a" stroke-width="0.95"/>
<path d="M594.4,331.4 L617.6,317.6 L691.7,360.1" fill="none" stroke="#3a3a3a" stroke-width="0.7"/>
<path d="M594.4,334.0 L668.0,376.5 L691.7,362.7" fill="none" stroke="#3a3a3a" stroke-width="0.95"/>
<path d="M594.4,334.0 L617.6,320.2 L691.7,362.7" fill="none" stroke="#3a3a3a" stroke-width="0.7"/>
<path d="M594.4,326.2 L594.4,335.2" stroke="#3a3a3a" stroke-width="1.4"/>
<path d="M617.6,312.4 L617.6,321.4" stroke="#3a3a3a" stroke-width="1.4"/>
<path d="M691.7,354.9 L691.7,363.9" stroke="#3a3a3a" stroke-width="1.4"/>
<path d="M668.0,368.7 L668.0,377.7" stroke="#3a3a3a" stroke-width="1.4"/>
<path d="M613.2,337.1 L613.2,346.1" stroke="#3a3a3a" stroke-width="1.4"/>
<path d="M631.9,347.4 L631.9,356.4" stroke="#3a3a3a" stroke-width="1.4"/>
<path d="M649.2,357.3 L649.2,366.3" stroke="#3a3a3a" stroke-width="1.4"/>
<path d="M635.4,322.8 L635.4,331.8" stroke="#3a3a3a" stroke-width="1.4"/>
<path d="M653.2,333.1 L653.2,342.1" stroke="#3a3a3a" stroke-width="1.4"/>
<path d="M671.4,344.5 L671.4,353.5" stroke="#3a3a3a" stroke-width="1.4"/>
<path d="M700.0,466.0 L706.0,462.0 L758.0,492.0 L758.0,504.0 L752.0,508.0 L700.0,478.0 Z" fill="#fff" stroke="#1e1e1e" stroke-width="0.9" stroke-linejoin="round" />
<g transform="translate(685.8,487.9) rotate(-8)">
<path d="M0,-15.4 L7.5,-16.9 A12.4,15.4 0 0 1 7.5,13.9 L0,15.4 A12.4,15.4 0 0 1 0,-15.4 Z" fill="#fff" stroke="#1e1e1e" stroke-width="0.8"/>
<ellipse cx="0.0" cy="0" rx="12.4" ry="15.4" fill="#fff" stroke="#1e1e1e" stroke-width="0.8"/>
<ellipse cx="-0.5" cy="0" rx="10.8" ry="13.4" fill="#fff" stroke="#1e1e1e" stroke-width="0.6"/>
<ellipse cx="-1.0" cy="0" rx="9.2" ry="11.4" fill="#fff" stroke="#1e1e1e" stroke-width="0.6"/>
<ellipse cx="-1.5" cy="0" rx="7.8" ry="9.6" fill="#fff" stroke="#1e1e1e" stroke-width="0.6"/>
<ellipse cx="-2" cy="0" rx="3.8" ry="4.8" fill="#fff" stroke="#1e1e1e" stroke-width="0.7"/>
<ellipse cx="-2" cy="0" rx="1.3" ry="1.6" fill="#fff" stroke="#1e1e1e" stroke-width="1.1"/>
<circle cx="0.8" cy="0.0" r="0.55" fill="#1e1e1e"/>
<circle cx="-0.6" cy="3.0" r="0.55" fill="#1e1e1e"/>
<circle cx="-3.4" cy="3.0" r="0.55" fill="#1e1e1e"/>
<circle cx="-4.8" cy="0.0" r="0.55" fill="#1e1e1e"/>
<circle cx="-3.4" cy="-3.0" r="0.55" fill="#1e1e1e"/>
<circle cx="-0.6" cy="-3.0" r="0.55" fill="#1e1e1e"/>
</g>
<g transform="translate(712.3,503.0) rotate(-8)">
<path d="M0,-15.4 L7.5,-16.9 A12.4,15.4 0 0 1 7.5,13.9 L0,15.4 A12.4,15.4 0 0 1 0,-15.4 Z" fill="#fff" stroke="#1e1e1e" stroke-width="0.8"/>
<ellipse cx="0.0" cy="0" rx="12.4" ry="15.4" fill="#fff" stroke="#1e1e1e" stroke-width="0.8"/>
<ellipse cx="-0.5" cy="0" rx="10.8" ry="13.4" fill="#fff" stroke="#1e1e1e" stroke-width="0.6"/>
<ellipse cx="-1.0" cy="0" rx="9.2" ry="11.4" fill="#fff" stroke="#1e1e1e" stroke-width="0.6"/>
<ellipse cx="-1.5" cy="0" rx="7.8" ry="9.6" fill="#fff" stroke="#1e1e1e" stroke-width="0.6"/>
<ellipse cx="-2" cy="0" rx="3.8" ry="4.8" fill="#fff" stroke="#1e1e1e" stroke-width="0.7"/>
<ellipse cx="-2" cy="0" rx="1.3" ry="1.6" fill="#fff" stroke="#1e1e1e" stroke-width="1.1"/>
<circle cx="0.8" cy="0.0" r="0.55" fill="#1e1e1e"/>
<circle cx="-0.6" cy="3.0" r="0.55" fill="#1e1e1e"/>
<circle cx="-3.4" cy="3.0" r="0.55" fill="#1e1e1e"/>
<circle cx="-4.8" cy="0.0" r="0.55" fill="#1e1e1e"/>
<circle cx="-3.4" cy="-3.0" r="0.55" fill="#1e1e1e"/>
<circle cx="-0.6" cy="-3.0" r="0.55" fill="#1e1e1e"/>
</g>
<path d="M731.8,508.0 L740.0,501.8 L758.2,512.0 L758.2,518.2 L750.0,523.0 L731.8,513.0 Z" fill="#fff" stroke="#1e1e1e" stroke-width="0.9" stroke-linejoin="round" />
<path d="M740,506 L758,516" fill="none" stroke="#1e1e1e" stroke-width="0.60" stroke-linecap="round" stroke-linejoin="round"/>
<path d="M755.7,442.4 L764.1,435.9 L791.9,421.1 L801.1,424.8 L814.1,437.8 L821.5,450.7 L825.2,459.0 L835.0,455.0 L841.0,453.0 L843.0,466.0 L842.0,471.0 L844.0,492.0 L845.0,512.0 L840.0,525.0 L812.0,541.5 L794.0,548.0 L784.0,548.0 L775.0,552.0 L760.0,549.0 L752.0,538.0 L753.0,500.0 L754.8,465.6 Z" fill="#fff" stroke="#1e1e1e" stroke-width="0.9" stroke-linejoin="round" />
<path d="M756.7,442.4 Q777,441.5 788,471 M757.6,447 Q775,448.9 783.5,473 M764.1,435.9 Q790,434 806,466" fill="none" stroke="#1e1e1e" stroke-width="0.70" stroke-linecap="round" stroke-linejoin="round"/>
<path d="M754.8,465.6 L788.1,484.1 L836.3,459.1 M754.8,469 L788.1,487.5 L836.5,462.5" fill="none" stroke="#1e1e1e" stroke-width="0.70" stroke-linecap="round" stroke-linejoin="round"/>
<path d="M788.1,487.5 L790,513 L794,548 M790,513 L840,494 M795.6,513.7 L840,498.9" fill="none" stroke="#1e1e1e" stroke-width="0.70" stroke-linecap="round" stroke-linejoin="round"/>
<path d="M790,487.8 L830.7,469.3 L838,482 L840,498.9" fill="none" stroke="#1e1e1e" stroke-width="0.70" stroke-linecap="round" stroke-linejoin="round"/>
<path d="M767.8,474.8 L788.1,487.8 L790,513.7 L769.6,502.6 Z" fill="none" stroke="#1e1e1e" stroke-width="0.70" stroke-linecap="round" stroke-linejoin="round"/>
<path d="M757,475 L760,540 M777,494 L779,519 L786,523 L784,499 Z" fill="none" stroke="#1e1e1e" stroke-width="0.70" stroke-linecap="round" stroke-linejoin="round"/>
<path d="M808.5,517.4 L836.3,504.4 L838.1,528.5 L812.2,541.5 Z" fill="#fff" stroke="#1e1e1e" stroke-width="0.9" stroke-linejoin="round" />
<path d="M810.5,521.5 L836.5,508.5" fill="none" stroke="#1e1e1e" stroke-width="0.55" stroke-linecap="round" stroke-linejoin="round"/>
<path d="M810.5,524.4 L836.5,511.4" fill="none" stroke="#1e1e1e" stroke-width="0.55" stroke-linecap="round" stroke-linejoin="round"/>
<path d="M810.5,527.3 L836.5,514.3" fill="none" stroke="#1e1e1e" stroke-width="0.55" stroke-linecap="round" stroke-linejoin="round"/>
<path d="M810.5,530.2 L836.5,517.2" fill="none" stroke="#1e1e1e" stroke-width="0.55" stroke-linecap="round" stroke-linejoin="round"/>
<path d="M810.5,533.1 L836.5,520.1" fill="none" stroke="#1e1e1e" stroke-width="0.55" stroke-linecap="round" stroke-linejoin="round"/>
<path d="M810.5,536.0 L836.5,523.0" fill="none" stroke="#1e1e1e" stroke-width="0.55" stroke-linecap="round" stroke-linejoin="round"/>
<path d="M810.5,538.9 L836.5,525.9" fill="none" stroke="#1e1e1e" stroke-width="0.55" stroke-linecap="round" stroke-linejoin="round"/>
<path d="M835.4,455.0 L841.0,452.5 L842.0,470.0 L837.0,472.0 Z" fill="#fff" stroke="#1e1e1e" stroke-width="0.9" stroke-linejoin="round" />
<circle cx="790.0" cy="482.5" r="0.9" fill="#1e1e1e"/>
<circle cx="795.2" cy="479.8" r="0.9" fill="#1e1e1e"/>
<circle cx="800.4" cy="477.1" r="0.9" fill="#1e1e1e"/>
<circle cx="805.6" cy="474.4" r="0.9" fill="#1e1e1e"/>
<circle cx="810.8" cy="471.7" r="0.9" fill="#1e1e1e"/>
<circle cx="816.0" cy="469.0" r="0.9" fill="#1e1e1e"/>
<circle cx="821.2" cy="466.3" r="0.9" fill="#1e1e1e"/>
<circle cx="826.4" cy="463.6" r="0.9" fill="#1e1e1e"/>
<circle cx="831.6" cy="460.9" r="0.9" fill="#1e1e1e"/>
<ellipse cx="825.2" cy="457.0" rx="2.2" ry="1.6" fill="#fff" stroke="#1e1e1e" stroke-width="0.9" stroke-linejoin="round"/>
<g transform="translate(767.8,536.0) rotate(-8)">
<path d="M0,-14.5 L7.5,-16.0 A12.0,14.5 0 0 1 7.5,13.0 L0,14.5 A12.0,14.5 0 0 1 0,-14.5 Z" fill="#fff" stroke="#1e1e1e" stroke-width="0.8"/>
<ellipse cx="0.0" cy="0" rx="12.0" ry="14.5" fill="#fff" stroke="#1e1e1e" stroke-width="0.8"/>
<ellipse cx="-0.5" cy="0" rx="10.4" ry="12.5" fill="#fff" stroke="#1e1e1e" stroke-width="0.6"/>
<ellipse cx="-1.0" cy="0" rx="8.8" ry="10.5" fill="#fff" stroke="#1e1e1e" stroke-width="0.6"/>
<ellipse cx="-1.5" cy="0" rx="7.4" ry="8.7" fill="#fff" stroke="#1e1e1e" stroke-width="0.6"/>
<ellipse cx="-2" cy="0" rx="3.8" ry="4.8" fill="#fff" stroke="#1e1e1e" stroke-width="0.7"/>
<ellipse cx="-2" cy="0" rx="1.3" ry="1.6" fill="#fff" stroke="#1e1e1e" stroke-width="1.1"/>
<circle cx="0.8" cy="0.0" r="0.55" fill="#1e1e1e"/>
<circle cx="-0.6" cy="3.0" r="0.55" fill="#1e1e1e"/>
<circle cx="-3.4" cy="3.0" r="0.55" fill="#1e1e1e"/>
<circle cx="-4.8" cy="0.0" r="0.55" fill="#1e1e1e"/>
<circle cx="-3.4" cy="-3.0" r="0.55" fill="#1e1e1e"/>
<circle cx="-0.6" cy="-3.0" r="0.55" fill="#1e1e1e"/>
</g>
<path d="M797.0,534.0 L806.0,529.5 L807.0,543.0 L798.0,547.5 Z" fill="#fff" stroke="#1e1e1e" stroke-width="0.9" stroke-linejoin="round" />
<path d="M838.0,510.0 L844.0,507.0 L844.0,520.0 L839.0,523.0 Z" fill="#fff" stroke="#1e1e1e" stroke-width="0.9" stroke-linejoin="round" />
<path d="M1186.0,229.0 L1253.0,190.0 L1291.9,212.0 L1291.9,217.7 L1224.5,257.0 L1186.0,234.5 Z" fill="#fff" stroke="#1e1e1e" stroke-width="0.9" stroke-linejoin="round" />
<path d="M1186,229 L1224.5,251.4 L1291.9,212 M1224.5,251.4 L1224.5,257" fill="none" stroke="#1e1e1e" stroke-width="0.80" stroke-linecap="round" stroke-linejoin="round"/>
<path d="M1207.4,144.8 L1237.3,159.7 L1239.8,234.6 L1204.9,214.6 Z" fill="#ffa500" stroke="#1e1e1e" stroke-width="0.9" stroke-linejoin="round" />
<path d="M1237.3,159.7 L1269.8,144.8 L1270.3,218.5 L1241.4,234.5 L1239.8,234.6 Z" fill="#fff" stroke="#1e1e1e" stroke-width="0.9" stroke-linejoin="round" />
<path d="M1241.4,160 L1241.4,234" fill="none" stroke="#1e1e1e" stroke-width="0.60" stroke-linecap="round" stroke-linejoin="round"/>
<g transform="rotate(20 1256 177)"><ellipse cx="1256" cy="177" rx="6.8" ry="9" fill="#fff" stroke="#1e1e1e" stroke-width="0.9" stroke-linejoin="round"/></g>
<path d="M1256,170 C1253,175 1251,179 1252,182 C1253,185 1258,185 1259.5,181 C1260,178 1258,174 1256,170 Z" fill="#ffa500" stroke="#1e1e1e" stroke-width="0.9" stroke-linejoin="round" />
<path d="M1195.0,100.0 C1195.3,96.7 1197.0,87.4 1200.0,85.0 C1203.0,82.6 1236.2,64.8 1239.3,63.5 C1242.4,62.2 1243.8,64.3 1246.0,65.5 C1248.2,66.7 1269.9,79.7 1272.2,81.2 C1274.5,82.7 1279.4,84.8 1280.0,88.0 C1280.6,91.2 1281.3,126.2 1281.0,129.8 C1280.7,133.4 1277.7,140.3 1275.0,142.3 C1272.3,144.3 1242.8,158.7 1239.8,159.7 C1236.8,160.7 1232.5,158.3 1230.0,157.2 C1227.5,156.1 1204.7,144.5 1202.4,143.0 C1200.1,141.5 1195.5,137.7 1195.0,134.8 C1194.5,131.9 1194.7,103.3 1195.0,100.0 Z" fill="#fff" stroke="#1e1e1e" stroke-width="0.9" stroke-linejoin="round" />
<path d="M1197.5,95 L1199,88 L1239.5,66.5 L1245,68" fill="none" stroke="#1e1e1e" stroke-width="0.60" stroke-linecap="round" stroke-linejoin="round"/>
<path d="M1201.5,91.0 L1243.0,68.5 L1269.8,82.4 L1230.0,105.0 L1227.4,153.0 L1201.5,141.0 Z" fill="#ffa500" stroke="#1e1e1e" stroke-width="0.9" stroke-linejoin="round" />
<path d="M1227.0,112.0 C1227.3,109.3 1228.0,106.0 1231.0,104.0 C1234.0,102.0 1269.0,83.5 1272.2,82.4 C1275.4,81.3 1279.1,84.2 1279.7,87.4 C1280.3,90.6 1281.3,126.1 1281.0,129.8 C1280.7,133.5 1277.6,140.3 1274.7,142.3 C1271.8,144.3 1241.0,158.9 1238.0,159.7 C1235.0,160.5 1230.7,155.8 1229.9,154.8 C1229.1,153.8 1226.3,147.7 1226.1,144.8 C1225.9,141.9 1226.7,114.7 1227.0,112.0 Z" fill="#fff" stroke="#1e1e1e" stroke-width="0.9" stroke-linejoin="round" />
<path d="M1240.0,111.0 L1266.0,98.0 L1268.0,132.0 L1243.0,145.0 Z" fill="#fff" stroke="#1e1e1e" stroke-width="0.9" stroke-linejoin="round" />
<path d="M1243.0,113.0 L1264.0,102.5 L1265.5,130.0 L1245.0,141.0 Z" fill="#fff" stroke="#1e1e1e" stroke-width="0.9" stroke-linejoin="round" />
<path d="M1244,122 L1264,111 M1244,125 L1264,114" fill="none" stroke="#1e1e1e" stroke-width="0.70" stroke-linecap="round" stroke-linejoin="round"/>
<path d="M1211,133 L1211,196 Q1212,201 1217,200 Q1222,198 1222,192 L1223,152" fill="none" stroke="#1e1e1e" stroke-width="3.2"/>
<path d="M1211,133 L1211,196 Q1212,201 1217,200 Q1222,198 1222,192 L1223,152" fill="none" stroke="#fff" stroke-width="1.6"/>
<path d="M1208.0,115.0 L1213.0,113.0 L1214.0,133.0 L1209.0,136.0 Z" fill="#fff" stroke="#1e1e1e" stroke-width="0.9" stroke-linejoin="round" />
<path d="M1209.0,121.0 L1212.0,120.0 L1213.0,131.0 L1210.0,133.0 Z" fill="#fff" stroke="#1e1e1e" stroke-width="0.9" stroke-linejoin="round" />
<path d="M1081.9,230.2 C1082.0,226.1 1082.8,221.6 1083.9,220.3 C1085.0,219.0 1101.6,205.9 1104.6,203.5 C1107.6,201.2 1141.8,174.7 1144.1,173.3 C1146.4,171.8 1150.5,174.1 1151.0,174.5 C1151.5,174.9 1153.3,181.2 1154.0,181.8 C1154.7,182.4 1164.2,186.2 1164.8,186.7 C1165.5,187.3 1167.7,187.5 1167.8,192.6 C1168.0,197.8 1168.0,284.4 1167.8,289.4 C1167.7,294.4 1167.8,292.0 1164.8,293.4 C1161.9,294.8 1111.6,316.2 1108.6,317.4 C1105.5,318.7 1104.9,318.6 1103.6,318.0 C1102.4,317.4 1085.0,306.4 1083.9,305.6 C1082.8,304.8 1082.0,305.0 1081.9,301.3 C1081.8,297.5 1081.8,234.2 1081.9,230.2 Z" fill="#ffa500" stroke="#1e1e1e" stroke-width="0.9" stroke-linejoin="round" />
<path d="M1105.5,317 L1105.5,242 Q1106,233 1112,226.5 L1122.8,219.5 L1168,194" fill="none" stroke="#1e1e1e" stroke-width="3" stroke-linejoin="round"/>
<path d="M1105.5,317 L1105.5,242 Q1106,233 1112,226.5 L1122.8,219.5 L1168,194" fill="none" stroke="#fff" stroke-width="1.5" stroke-linejoin="round"/>
<path d="M1102.6,207.5 C1101.9,206.5 1104.0,196.9 1106.6,194.6 C1109.2,192.3 1139.2,174.3 1142.1,172.9 C1145.0,171.5 1149.3,173.2 1150.0,173.9 C1150.8,174.6 1152.9,182.8 1153.0,183.8 C1153.1,184.7 1153.3,186.6 1151.0,188.3 C1148.7,190.0 1121.7,207.6 1118.4,208.8 C1115.2,210.1 1103.4,208.4 1102.6,207.5 Z" fill="#fff" stroke="#1e1e1e" stroke-width="0.9" stroke-linejoin="round" />
<path d="M1110.5,205.5 C1111.7,204.2 1132.2,191.4 1134.2,190.3 C1136.3,189.1 1140.6,188.1 1141.2,188.3 C1141.7,188.5 1144.7,191.2 1143.1,192.6 C1141.5,194.1 1119.6,208.6 1117.5,209.4 C1115.3,210.3 1109.4,206.8 1110.5,205.5 Z" fill="#ffa500" stroke="#1e1e1e" stroke-width="0.9" stroke-linejoin="round" />
<path d="M1116.5,216.7 C1115.8,216.1 1117.7,207.0 1120.4,204.5 C1123.2,202.0 1155.0,181.3 1157.9,179.8 C1160.9,178.3 1164.2,181.0 1164.8,181.8 C1165.5,182.6 1167.7,190.8 1167.8,191.7 C1167.9,192.5 1168.7,193.5 1166.2,195.0 C1163.7,196.6 1133.6,213.3 1130.3,214.8 C1127.0,216.2 1117.1,217.4 1116.5,216.7 Z" fill="#fff" stroke="#1e1e1e" stroke-width="0.9" stroke-linejoin="round" />
<path d="M1124.4,215.4 C1125.6,214.1 1146.9,199.8 1149.1,198.6 C1151.2,197.3 1155.4,196.5 1156.0,196.6 C1156.6,196.7 1159.6,199.2 1157.9,200.5 C1156.3,201.9 1133.5,215.8 1131.3,216.7 C1129.0,217.7 1123.2,216.6 1124.4,215.4 Z" fill="#ffa500" stroke="#1e1e1e" stroke-width="0.9" stroke-linejoin="round" />
<path d="M1113,245.5 L1124.4,251.9 M1123.4,283.5 L1112.5,300" fill="none" stroke="#1e1e1e" stroke-width="5" stroke-linecap="round"/>
<path d="M1113,245.5 L1124.4,251.9 M1123.4,283.5 L1112.5,300" fill="none" stroke="#fff" stroke-width="3.5" stroke-linecap="round"/>
<path d="M1122.4,249.9 L1140.2,242 L1140.2,275.6 L1123.4,283.5 Z" fill="none" stroke="#1e1e1e" stroke-width="4" stroke-linejoin="round"/>
<path d="M1122.4,249.9 L1140.2,242 L1140.2,275.6 L1123.4,283.5 Z" fill="none" stroke="#fff" stroke-width="2.5" stroke-linejoin="round"/>
<path d="M1087.8,218.3 L1087.8,226.0 A8.9,6.5 0 0 0 1105.6,226.0 L1105.6,218.3 A8.9,6.5 0 0 0 1087.8,218.3 Z" fill="#fff" stroke="#1e1e1e" stroke-width="0.9" stroke-linejoin="round" />
<ellipse cx="1096.7" cy="218.3" rx="8.9" ry="6.5" fill="#fff" stroke="#1e1e1e" stroke-width="0.9" stroke-linejoin="round"/>
<ellipse cx="1096.7" cy="218.3" rx="8.9" ry="6.5" fill="#ffa500" stroke="#1e1e1e" stroke-width="0.9" stroke-linejoin="round"/>
<path d="M1138.2,240.0 C1138.4,233.5 1139.0,236.0 1141.0,235.0 C1143.0,234.0 1160.0,229.3 1161.9,228.2 C1163.8,227.1 1162.9,223.3 1163.9,222.3 C1164.9,221.3 1172.1,216.8 1173.7,216.3 C1175.3,215.8 1182.1,215.8 1183.6,216.3 C1185.1,216.8 1190.5,221.1 1191.5,222.3 C1192.5,223.5 1194.7,228.7 1195.5,230.2 C1196.3,231.7 1200.6,238.5 1201.4,240.0 C1202.2,241.5 1205.0,243.6 1205.3,247.9 C1205.6,252.2 1205.5,287.1 1205.3,291.4 C1205.1,295.7 1207.7,296.8 1203.4,299.3 C1199.1,301.8 1159.0,319.4 1154.0,321.0 C1149.0,322.6 1144.4,319.7 1143.1,319.0 C1141.8,318.3 1138.6,319.7 1138.2,313.1 C1137.8,306.5 1138.0,246.5 1138.2,240.0 Z" fill="#fff" stroke="#1e1e1e" stroke-width="0.9" stroke-linejoin="round" />
<path d="M1152,236 L1152,319 M1146,233 Q1150,235 1152,240" fill="none" stroke="#1e1e1e" stroke-width="0.70" stroke-linecap="round" stroke-linejoin="round"/>
<path d="M1164,229 Q1172,240 1178,238 L1200,230" fill="none" stroke="#1e1e1e" stroke-width="0.70" stroke-linecap="round" stroke-linejoin="round"/>
<path d="M1168,232 Q1176,243 1182,241 L1201,234" fill="none" stroke="#1e1e1e" stroke-width="0.60" stroke-linecap="round" stroke-linejoin="round"/>
<path d="M1179,228 Q1186,220 1193,226" fill="none" stroke="#1e1e1e" stroke-width="0.60" stroke-linecap="round" stroke-linejoin="round"/>
<path d="M1157.9,253.9 L1185.6,247.9 L1197.5,259.8 L1195.5,291.4 L1160.0,309.2 L1157.0,303.3 Z" fill="#ffa500" stroke="#1e1e1e" stroke-width="0.9" stroke-linejoin="round" />
<path d="M1161.0,262.0 C1162.2,259.8 1182.3,252.0 1184.0,252.0 C1185.7,252.0 1193.5,260.3 1194.0,262.0 C1194.5,263.7 1194.6,284.1 1193.0,286.0 C1191.4,287.9 1163.7,300.5 1162.0,301.0 C1160.3,301.5 1160.0,297.9 1160.0,296.0 C1160.0,294.1 1159.8,264.2 1161.0,262.0 Z" fill="#fff" stroke="#1e1e1e" stroke-width="0.9" stroke-linejoin="round" />
<g transform="rotate(18 1177.7 275.6)"><ellipse cx="1177.7" cy="275.6" rx="11" ry="15" fill="#fff" stroke="#1e1e1e" stroke-width="0.9" stroke-linejoin="round"/></g>
<path d="M1179,264 C1173,271 1170,277 1171,282 C1172,288 1181,289 1183,282 C1185,277 1182,270 1179,264 Z" fill="#ffa500" stroke="#1e1e1e" stroke-width="0.9" stroke-linejoin="round" />
<ellipse cx="1179.5" cy="271.5" rx="1.6" ry="2.2" fill="#fff" stroke="#1e1e1e" stroke-width="0.6"/>
<path d="M1160.0,301.0 L1193.0,286.0 L1195.5,291.4 L1160.0,309.2 Z" fill="#ffa500" stroke="#1e1e1e" stroke-width="0.9" stroke-linejoin="round" />
<path d="M1145.1,219.5 L1145.1,230.2 A8.4,4.2 0 0 0 1161.9,230.2 L1161.9,219.5 A8.4,4.2 0 0 0 1145.1,219.5 Z" fill="#fff" stroke="#1e1e1e" stroke-width="0.9" stroke-linejoin="round" />
<ellipse cx="1153.5" cy="219.5" rx="8.4" ry="4.2" fill="#fff" stroke="#1e1e1e" stroke-width="0.9" stroke-linejoin="round"/>
<path d="M1145.5,223 Q1153.5,227.5 1161.5,223 M1145.5,226 Q1153.5,230.5 1161.5,226" fill="none" stroke="#1e1e1e" stroke-width="0.50" stroke-linecap="round" stroke-linejoin="round"/>
<ellipse cx="1153.5" cy="219.5" rx="8.4" ry="4.2" fill="#ffa500" stroke="#1e1e1e" stroke-width="0.9" stroke-linejoin="round"/>
<g transform="translate(0.0,0.0)" fill="none" stroke="#fff" stroke-width="8" stroke-linecap="round" stroke-linejoin="round"><path d="M360.5,488.3 C385,463 430,432 485,424.5"/><path d="M458.5,416 L487,424 L465,441.5"/></g>
<g transform="translate(526.5,-164.0)" fill="none" stroke="#fff" stroke-width="8" stroke-linecap="round" stroke-linejoin="round"><path d="M360.5,488.3 C385,463 430,432 485,424.5"/><path d="M458.5,416 L487,424 L465,441.5"/></g>
<g>
<ellipse cx="1328.5" cy="723.2" rx="43.6" ry="24.6" fill="#ffe600" transform="rotate(10 1328.5 723.2)"/>
<ellipse cx="1334.9" cy="726.7" rx="37.2" ry="20.9" fill="#ffa500" transform="rotate(10 1334.9 726.7)"/>
<ellipse cx="1341.9" cy="730.4" rx="31.2" ry="17.3" fill="#00c2e6" transform="rotate(10 1341.9 730.4)"/>
<ellipse cx="1348.3" cy="734.3" rx="24.7" ry="14.4" fill="#1590d6" transform="rotate(10 1348.3 734.3)"/>
<ellipse cx="1355.0" cy="738.3" rx="18.0" ry="10.6" fill="#6e6e6e" transform="rotate(10 1355.0 738.3)"/>
<ellipse cx="1362.1" cy="741.5" rx="12.2" ry="7.5" fill="#0a0a0a" transform="rotate(10 1362.1 741.5)"/>
</g>
<text x="81.0" y="91.0" font-size="47.5" font-weight="bold" fill="#ffffff" textLength="636.0" lengthAdjust="spacingAndGlyphs">O&amp;G'S THREE PRIMARY STAGES</text>
<text x="114.0" y="738.0" font-size="35.5" font-weight="normal" fill="#ffffff" stroke="#ffffff" stroke-width="1.9" stroke-linejoin="round" letter-spacing="1.20" textLength="174.5" lengthAdjust="spacingAndGlyphs">UPSTREAM</text>
<text x="622.2" y="629.8" font-size="35.0" font-weight="normal" fill="#ffffff" stroke="#ffffff" stroke-width="1.9" stroke-linejoin="round" letter-spacing="1.20" textLength="187.0" lengthAdjust="spacingAndGlyphs">MIDSTREAM</text>
<text x="1101.0" y="401.3" font-size="35.5" font-weight="normal" fill="#ffffff" stroke="#ffffff" stroke-width="1.9" stroke-linejoin="round" letter-spacing="1.20" textLength="232.0" lengthAdjust="spacingAndGlyphs">DOWNSTREAM</text>
<text x="106.1" y="278.9" font-size="15.6" font-weight="bold" fill="#ffffff" letter-spacing="1.00" textLength="112.3" lengthAdjust="spacingAndGlyphs">EXPLORATION,</text>
<circle cx="96.7" cy="273.5" r="2.4" fill="#fff"/>
<text x="106.1" y="299.7" font-size="15.6" font-weight="bold" fill="#ffffff" letter-spacing="1.00" textLength="114.0" lengthAdjust="spacingAndGlyphs">DRILLING, AND</text>
<circle cx="96.7" cy="294.3" r="2.4" fill="#fff"/>
<text x="106.1" y="320.5" font-size="15.6" font-weight="bold" fill="#ffffff" letter-spacing="1.00" textLength="211.5" lengthAdjust="spacingAndGlyphs">PRODUCTION OF CRUDE OIL</text>
<circle cx="96.7" cy="315.1" r="2.4" fill="#fff"/>
<text x="106.1" y="341.4" font-size="15.6" font-weight="bold" fill="#ffffff" letter-spacing="1.00" textLength="143.2" lengthAdjust="spacingAndGlyphs">AND NATURAL GAS</text>
<text x="625.3" y="682.6" font-size="15.6" font-weight="bold" fill="#ffffff" letter-spacing="1.00" textLength="138.5" lengthAdjust="spacingAndGlyphs">TRANSPORTATION</text>
<circle cx="615.9" cy="677.2" r="2.4" fill="#fff"/>
<text x="625.3" y="703.7" font-size="15.6" font-weight="bold" fill="#ffffff" letter-spacing="1.00" textLength="217.1" lengthAdjust="spacingAndGlyphs">STORAGE OF CRUDE OIL AND</text>
<circle cx="615.9" cy="698.3" r="2.4" fill="#fff"/>
<text x="625.3" y="724.7" font-size="15.6" font-weight="bold" fill="#ffffff" letter-spacing="1.00" textLength="106.4" lengthAdjust="spacingAndGlyphs">NATURAL GAS</text>
<text x="1110.3" y="444.4" font-size="15.6" font-weight="bold" fill="#ffffff" letter-spacing="1.00" textLength="77.8" lengthAdjust="spacingAndGlyphs">REFINING,</text>
<circle cx="1100.8" cy="439.0" r="2.4" fill="#fff"/>
<text x="1110.3" y="465.3" font-size="15.6" font-weight="bold" fill="#ffffff" letter-spacing="1.00" textLength="102.6" lengthAdjust="spacingAndGlyphs">PROCESSING,</text>
<circle cx="1100.8" cy="459.9" r="2.4" fill="#fff"/>
<text x="1110.3" y="486.1" font-size="15.6" font-weight="bold" fill="#ffffff" letter-spacing="1.00" textLength="219.3" lengthAdjust="spacingAndGlyphs">DISTRIBUTION OF CRUDE OIL</text>
<circle cx="1100.8" cy="480.7" r="2.4" fill="#fff"/>
<text x="1110.3" y="507.3" font-size="15.6" font-weight="bold" fill="#ffffff" letter-spacing="1.00" textLength="198.4" lengthAdjust="spacingAndGlyphs">AND NATURAL GAS INTO A</text>
<text x="1110.3" y="528.1" font-size="15.6" font-weight="bold" fill="#ffffff" letter-spacing="1.00" textLength="156.4" lengthAdjust="spacingAndGlyphs">WIDE RANGE OF END</text>
<text x="1110.3" y="548.9" font-size="15.6" font-weight="bold" fill="#ffffff" letter-spacing="1.00" textLength="83.9" lengthAdjust="spacingAndGlyphs">PRODUCTS</text>
</svg></body></html>
